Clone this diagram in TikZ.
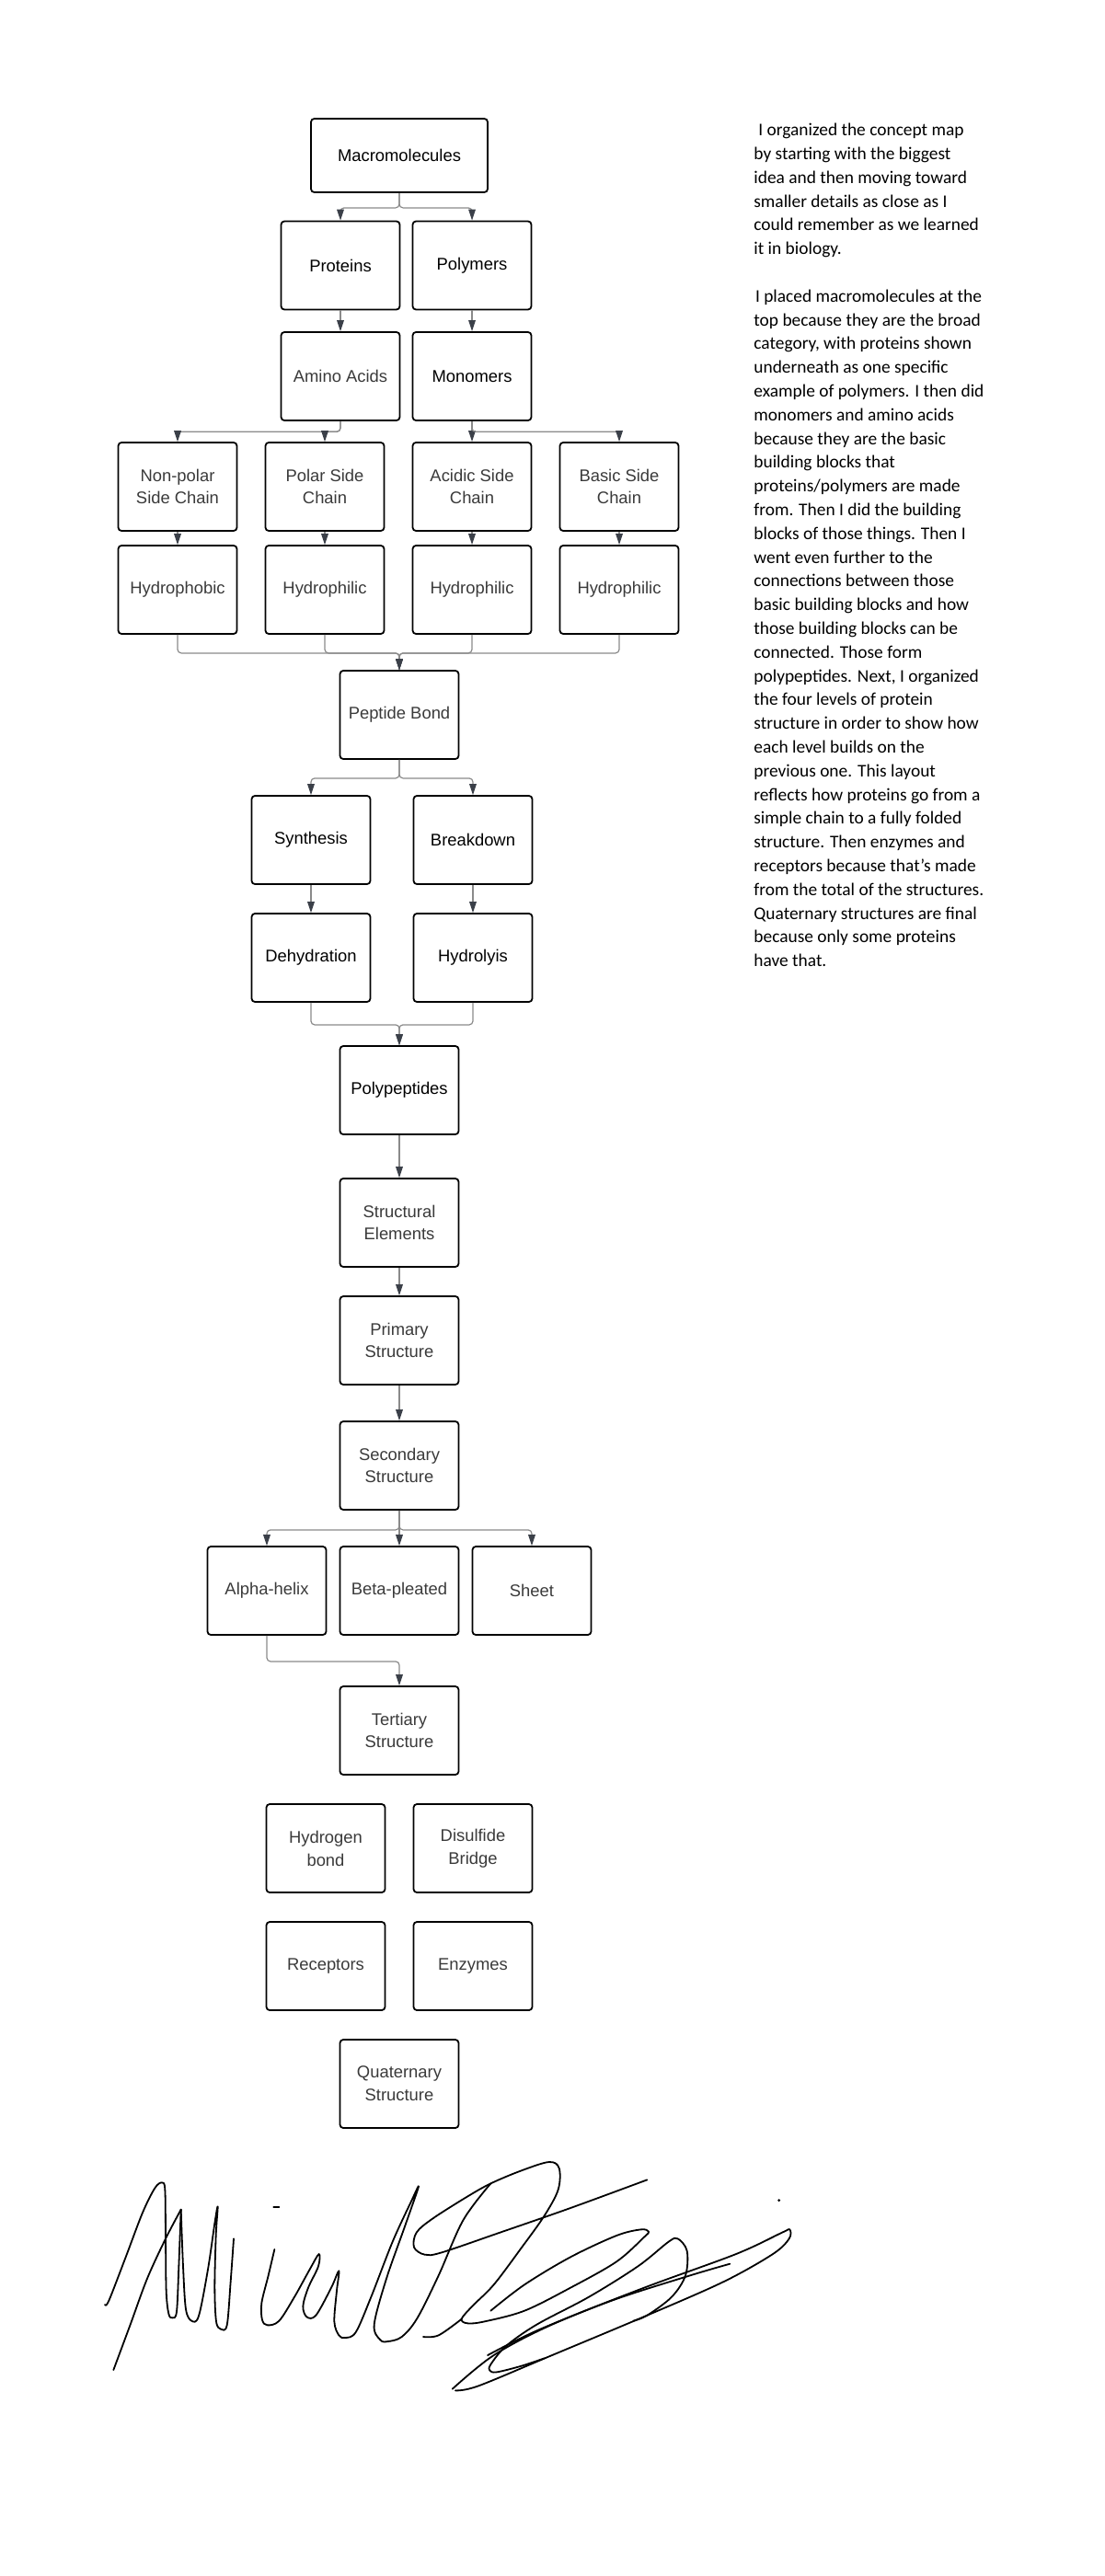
\documentclass[tikz,border=0pt]{standalone}
\usepackage{fontspec}
\setmainfont{Liberation Sans}
\newfontfamily\notefont{Carlito}
\usepackage{tikz}
\usetikzlibrary{shapes,arrows.meta,positioning}
\definecolor{linegray}{HTML}{8A8A8A}
\definecolor{arrowgray}{HTML}{3B4049}
\definecolor{textgray}{HTML}{3A3A3A}
\tikzstyle{block} = [rectangle, draw, line width=0.9pt, rounded corners=1.8pt,
    text=textgray, align=center, minimum width=64.5pt, minimum height=48pt,
    inner sep=0pt, font=\fontsize{9.2}{12.4}\selectfont]
\tikzstyle{dblock} = [block, text=black]
\tikzstyle{line} = [draw=linegray, line width=0.6pt, rounded corners=2pt,
    -{Triangle[length=6pt,width=3.8pt,color=arrowgray]}]
\tikzstyle{sign} = [line width=0.9pt, line cap=round, line join=round]

\begin{document}
\begin{tikzpicture}[node distance = 64pt, auto]
    \useasboundingbox (0,0) rectangle (600pt,-1400pt);
    % Place nodes
    \node [dblock, minimum width=96pt, minimum height=40pt] (macro) at (217pt,-84.5pt) {Macromolecules};
    \node [dblock, below of=macro, node distance=59.75pt, xshift=-32pt] (proteins) {Proteins};
    \node [dblock, right of=proteins, node distance=71.5pt] (polymers) {Polymers};
    \node [block, below of=proteins, node distance=60.25pt] (amino) {Amino Acids};
    \node [dblock, below of=polymers, node distance=60.25pt] (monomers) {Monomers};
    \node [block, below of=amino, node distance=60pt, xshift=-88.5pt] (nonpolar) {Non-polar\\Side Chain};
    \node [block, right of=nonpolar, node distance=80pt] (polar) {Polar Side\\Chain};
    \node [block, right of=polar, node distance=80pt] (acidic) {Acidic Side\\Chain};
    \node [block, right of=acidic, node distance=80pt] (basic) {Basic Side\\Chain};
    \node [block, below of=nonpolar, node distance=56pt] (phobic) {Hydrophobic};
    \node [block, below of=polar, node distance=56pt] (philicA) {Hydrophilic};
    \node [block, below of=acidic, node distance=56pt] (philicB) {Hydrophilic};
    \node [block, below of=basic, node distance=56pt] (philicC) {Hydrophilic};
    \node [block, below of=philicA, node distance=68pt, xshift=40.5pt] (peptide) {Peptide Bond};
    \node [dblock, below of=peptide, node distance=68pt, xshift=-48pt] (synth) {Synthesis};
    \node [dblock, right of=synth, node distance=88pt] (breakdown) {Breakdown};
    \node [dblock, below of=synth] (dehyd) {Dehydration};
    \node [dblock, below of=breakdown] (hydrol) {Hydrolyis};
    \node [dblock, below of=peptide, node distance=204pt] (polypep) {Polypeptides};
    \node [block, below of=polypep, node distance=72pt] (structEl) {Structural\\Elements};
    \node [block, below of=structEl] (primary) {Primary\\Structure};
    \node [block, below of=primary, node distance=68pt] (secondary) {Secondary\\Structure};
    \node [block, below of=secondary, node distance=68pt] (beta) {Beta-pleated};
    \node [block, left of=beta, node distance=72pt] (alpha) {Alpha-helix};
    \node [block, right of=beta, node distance=72pt] (sheet) {Sheet};
    \node [block, below of=beta, node distance=76pt] (tertiary) {Tertiary\\Structure};
    \node [block, below of=tertiary, xshift=-40pt] (hbond) {Hydrogen\\bond};
    \node [block, right of=hbond, node distance=80pt] (disulf) {Disulfide\\Bridge};
    \node [block, below of=hbond] (recept) {Receptors};
    \node [block, below of=disulf] (enzymes) {Enzymes};
    \node [block, below of=tertiary, node distance=192pt] (quatern) {Quaternary\\Structure};
    \node [anchor=north west, align=left, inner sep=0pt,
        font=\notefont\fontsize{9.7}{12.9}\selectfont] (notes) at (409.5pt,-66.9pt) {%
        \hspace{2.5pt}I organized the concept map\\
        by starting with the biggest\\
        idea and then moving toward\\
        smaller details as close as I\\
        could remember as we learned\\
        it in biology.\\[12.9pt]
        \hspace{0.8pt}I placed macromolecules at the\\
        top because they are the broad\\
        category, with proteins shown\\
        underneath as one specific\\
        example of polymers. I then did\\
        monomers and amino acids\\
        because they are the basic\\
        building blocks that\\
        proteins/polymers are made\\
        from. Then I did the building\\
        blocks of those things. Then I\\
        went even further to the\\
        connections between those\\
        basic building blocks and how\\
        those building blocks can be\\
        connected. Those form\\
        polypeptides. Next, I organized\\
        the four levels of protein\\
        structure in order to show how\\
        each level builds on the\\
        previous one. This layout\\
        reflects how proteins go from a\\
        simple chain to a fully folded\\
        structure. Then enzymes and\\
        receptors because that’s made\\
        from the total of the structures.\\
        Quaternary structures are final\\
        because only some proteins\\
        have that.};
    % Draw edges
    \path [line] (macro.south) -- ++(0,-8pt) -| (proteins.north);
    \path [line] (macro.south) -- ++(0,-8pt) -| (polymers.north);
    \path [line] (proteins) -- (amino);
    \path [line] (polymers) -- (monomers);
    \path [line] (amino.south) -- ++(0,-5.7pt) -| (nonpolar.north);
    \path [line] (amino.south) -- ++(0,-5.7pt) -| (polar.north);
    \path [line] (monomers) -- (acidic);
    \path [line] (monomers.south) -- ++(0,-5.7pt) -| (basic.north);
    \path [line] (nonpolar) -- (phobic);
    \path [line] (polar) -- (philicA);
    \path [line] (acidic) -- (philicB);
    \path [line] (basic) -- (philicC);
    \path [line] (phobic.south) -- ++(0,-10pt) -| (peptide.north);
    \path [line] (philicA.south) -- ++(0,-10pt) -| (peptide.north);
    \path [line] (philicB.south) -- ++(0,-10pt) -| (peptide.north);
    \path [line] (philicC.south) -- ++(0,-10pt) -| (peptide.north);
    \path [line] (peptide.south) -- ++(0,-10pt) -| (synth.north);
    \path [line] (peptide.south) -- ++(0,-10pt) -| (breakdown.north);
    \path [line] (synth) -- (dehyd);
    \path [line] (breakdown) -- (hydrol);
    \path [line] (dehyd.south) -- ++(0,-12pt) -| (polypep.north);
    \path [line] (hydrol.south) -- ++(0,-12pt) -| (polypep.north);
    \path [line] (polypep) -- (structEl);
    \path [line] (structEl) -- (primary);
    \path [line] (primary) -- (secondary);
    \path [line] (secondary.south) -- ++(0,-10.5pt) -| (alpha.north);
    \path [line] (secondary) -- (beta);
    \path [line] (secondary.south) -- ++(0,-10.5pt) -| (sheet.north);
    \path [line] (alpha.south) -- ++(0,-14pt) -| (tertiary.north);
    % Signature
    \begin{scope}[shift={(50pt,-1165pt)}, x=0.16667pt, y=-0.16667pt]
        \draw [sign] plot [smooth, tension=0.55] coordinates {(42,525) (55,512) (110,370) (165,225) (205,145) (228,127) (238,150) (240,300) (242,480) (250,555) (262,568) (276,548) (283,400) (290,215)};
        \draw [sign] plot [smooth, tension=0.55] coordinates {(290,215) (240,310) (180,440) (125,590) (70,738)};
        \draw [sign] plot [smooth, tension=0.55] coordinates {(290,215) (297,400) (306,540) (325,578) (348,562) (378,410) (400,260) (410,205) (404,300) (400,470) (405,580) (420,605) (440,592) (452,450) (462,310)};
        \draw [sign] plot [smooth, tension=0.55] coordinates {(595,345) (575,430) (553,520) (555,575) (572,592) (610,578) (660,500) (710,410) (740,360) (738,400) (705,470) (688,530) (700,565) (730,560) (780,470) (805,415) (798,480) (790,580) (805,625) (825,633) (860,615) (910,500) (980,320) (1040,190) (1065,140) (1020,270) (960,440) (920,590) (940,640) (965,645) (1010,630) (1060,570) (1130,430) (1210,250) (1300,130)};
        \draw [sign] plot [smooth, tension=0.55] coordinates {(1810,118) (1560,210) (1330,290) (1140,355) (1085,362) (1050,338) (1058,290) (1110,245) (1220,175) (1300,130) (1400,88) (1490,60) (1523,80) (1520,150) (1475,235) (1400,340) (1310,460) (1240,530) (1205,572) (1225,586) (1280,580) (1410,545) (1560,470) (1710,385) (1800,305) (1815,287) (1790,280) (1710,300) (1560,370) (1410,460) (1300,545)};
        \draw [sign] plot [smooth, tension=0.55] coordinates {(1080,630) (1130,625) (1205,572)};
        \draw [sign] plot [smooth, tension=0.55] coordinates {(1475,700) (1400,725) (1320,745) (1297,740) (1300,720) (1350,660) (1450,590) (1620,500) (1780,400) (1880,320) (1910,310) (1940,350) (1935,430) (1890,500) (1810,560) (1765,578)};
        \draw [sign] plot [smooth, tension=0.55] coordinates {(1175,800) (1310,690) (1500,590) (1800,470) (2100,360) (2250,290) (2275,280) (2273,310) (2220,360) (2060,450) (1810,560) (1500,690) (1260,790) (1185,805)};
        \draw [sign] plot [smooth, tension=0.55] coordinates {(1290,690) (1450,610) (1700,510) (1950,430) (2080,392)};
        \draw [sign] (592,207) -- (610,207);
        \fill (2240,185) circle (0.8pt);
    \end{scope}
\end{tikzpicture}
\end{document}
